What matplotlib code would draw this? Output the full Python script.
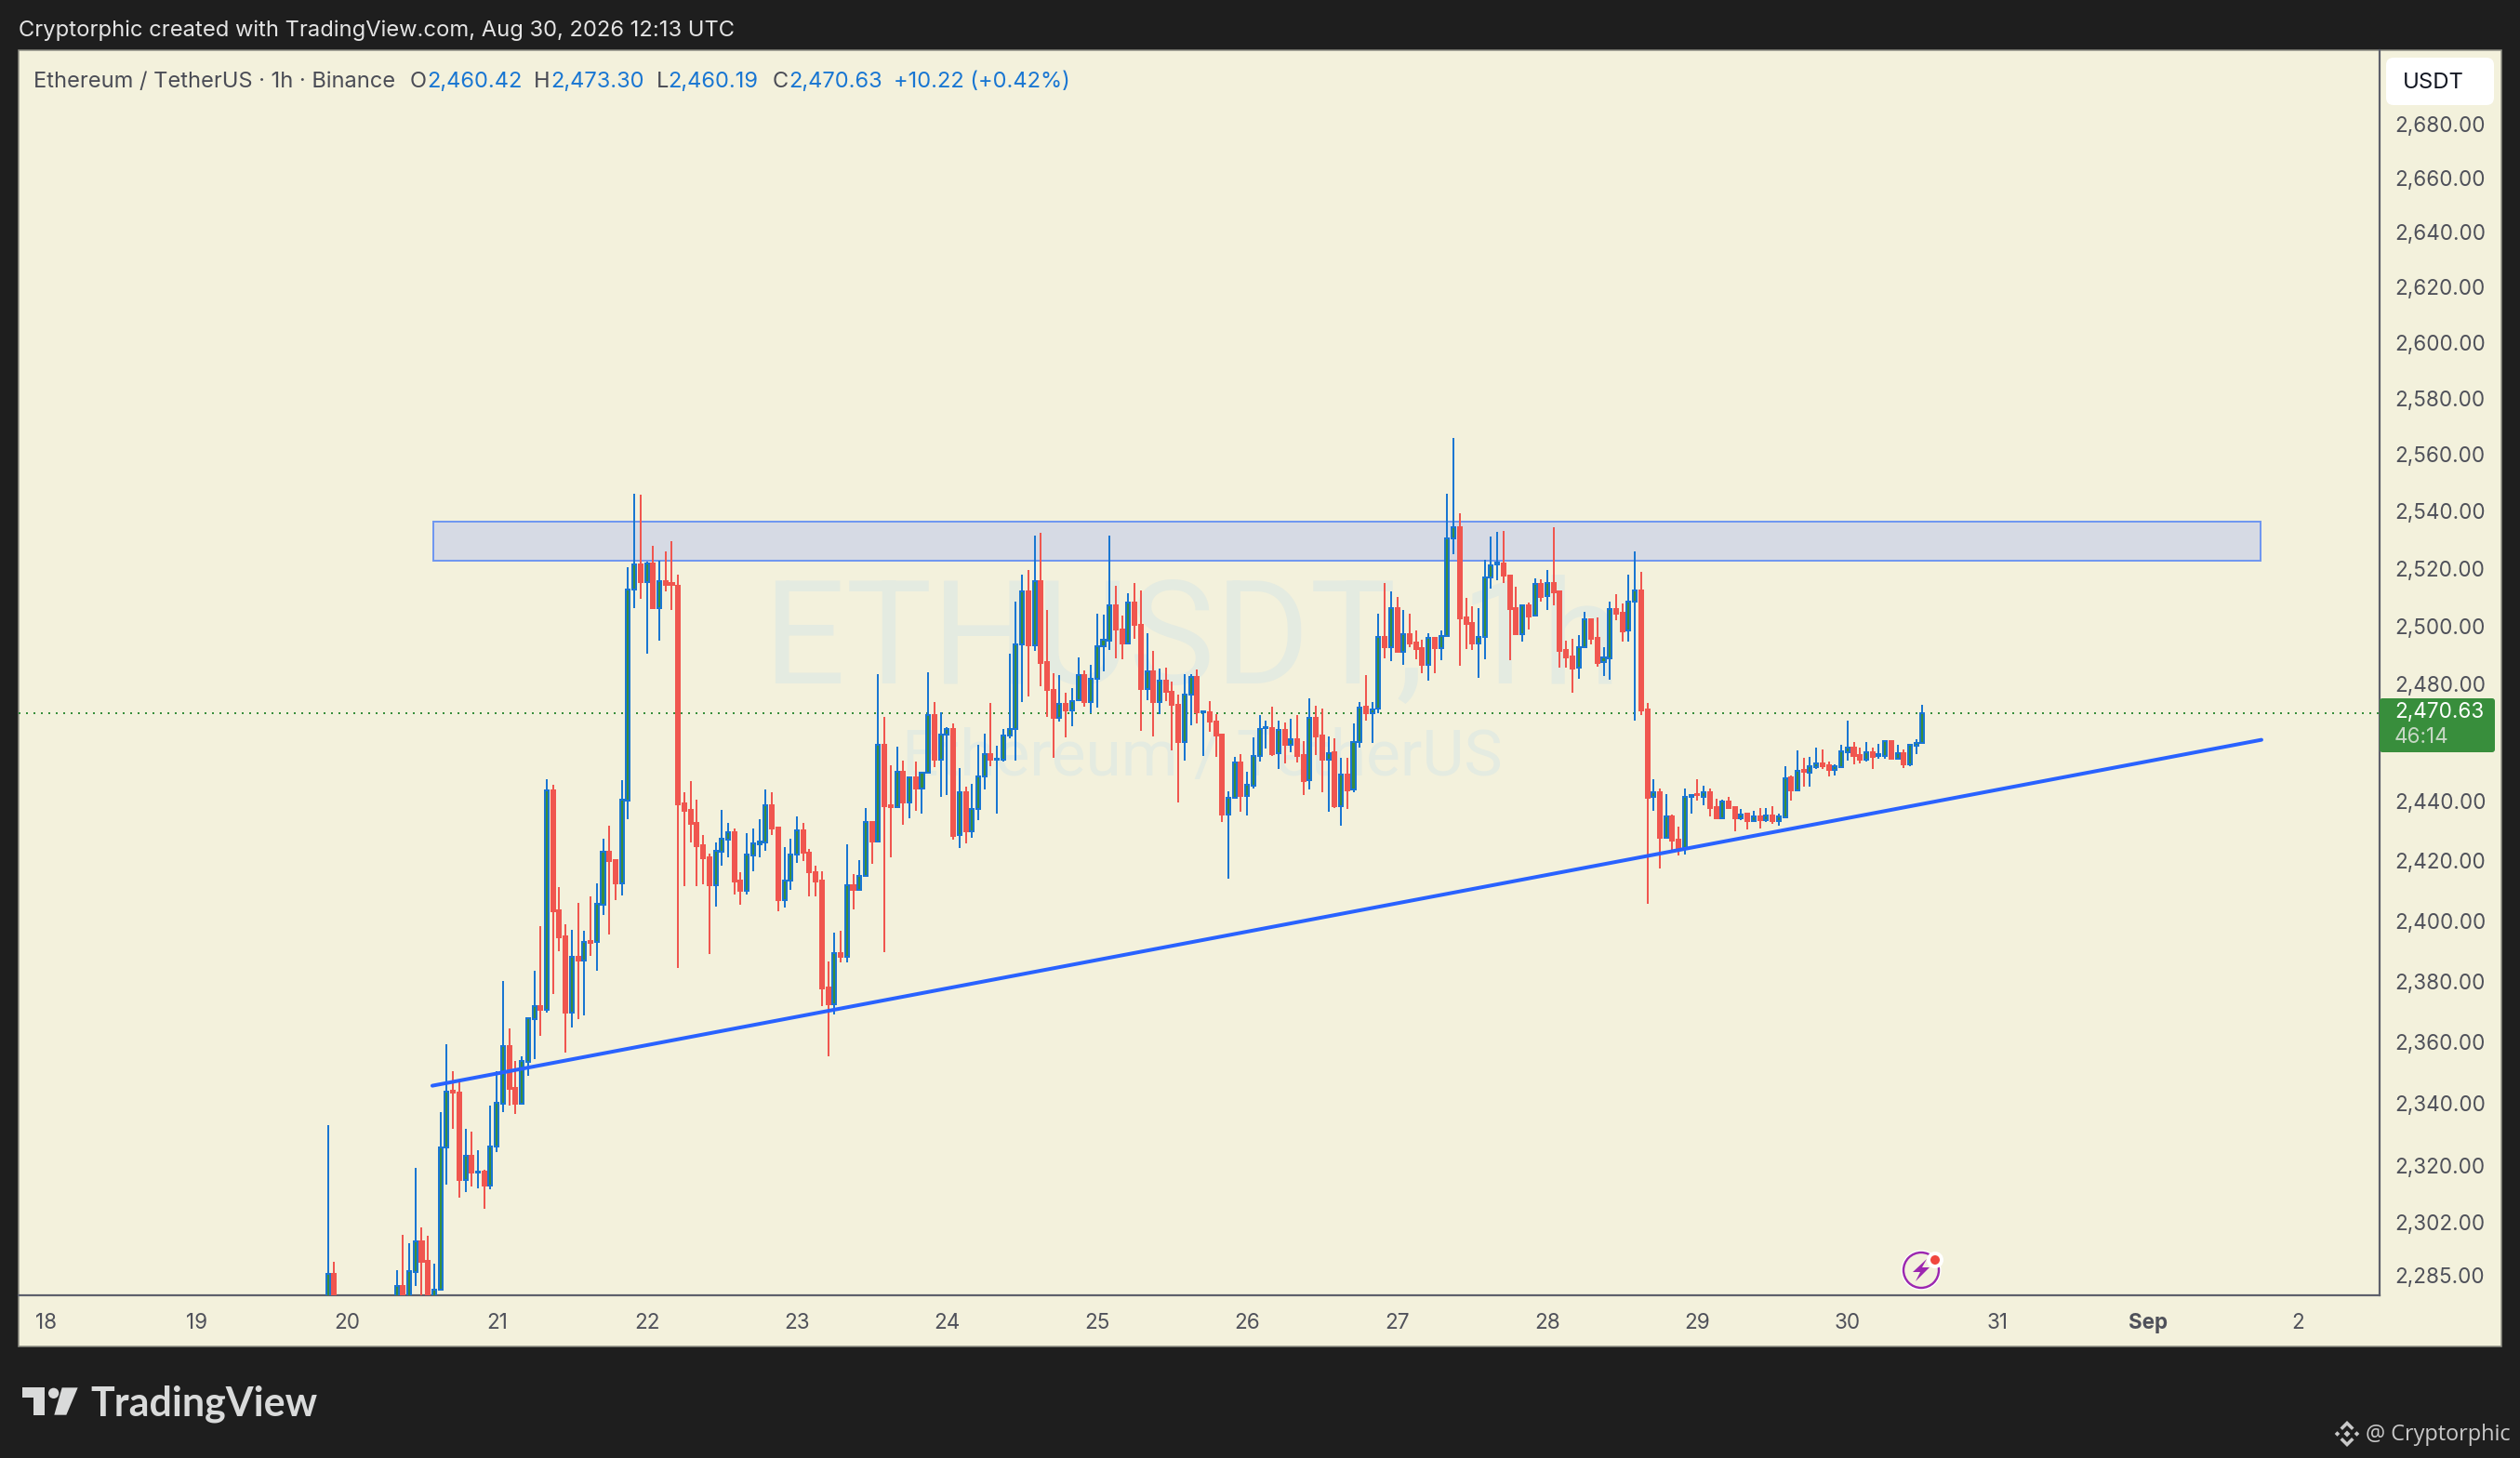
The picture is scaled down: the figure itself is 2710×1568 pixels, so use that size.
import matplotlib
matplotlib.use("Agg")
import matplotlib.pyplot as plt
from matplotlib.patches import Rectangle, FancyBboxPatch, Polygon, Circle
from matplotlib.transforms import ScaledTranslation
from matplotlib.ticker import NullLocator

# ---------- data ----------
hours_early = [45, 46]
hours_main = list(range(56, 301))  # hours since 18 Aug 00:00

opens = [2270.0, 2286.2,
 2276.0, 2282.3, 2274.0, 2286.7, 2296.5, 2290.3, 2272.0, 2281.1, 2326.5, 2344.9, 2344.3, 2316.1, 2323.8, 2318.5,
 2318.8, 2314.3, 2326.8, 2340.6, 2359.4, 2345.8, 2340.6, 2354.2, 2368.1, 2372.4, 2371.2, 2444.4, 2404.2, 2395.5,
 2370.3, 2388.8, 2387.5, 2394.0, 2393.7, 2405.8, 2423.7, 2420.9, 2413.1, 2441.0, 2513.3, 2522.0, 2515.9, 2522.4,
 2506.9, 2516.2, 2515.6, 2514.6, 2440.0, 2437.8, 2433.4, 2425.9, 2421.9, 2412.5, 2423.7, 2427.8, 2430.3, 2414.1,
 2410.7, 2422.5, 2426.2, 2426.8, 2439.4, 2431.9, 2407.6, 2414.1, 2422.8, 2430.9, 2423.4, 2416.9, 2414.1, 2378.6,
 2373.1, 2390.0, 2388.8, 2412.5, 2411.0, 2415.4, 2433.7, 2427.1, 2459.9, 2439.4, 2438.8, 2450.7, 2440.4, 2448.9,
 2445.1, 2450.4, 2470.0, 2454.8, 2463.4, 2465.3, 2429.3, 2443.8, 2430.6, 2438.2, 2449.2, 2456.7, 2454.8, 2454.8,
 2463.0, 2465.3, 2494.3, 2512.7, 2493.9, 2516.2, 2488.2, 2478.6, 2469.1, 2473.8, 2471.6, 2475.1, 2483.7, 2474.4,
 2482.5, 2493.6, 2495.6, 2507.8, 2499.4, 2494.6, 2508.8, 2501.0, 2478.9, 2485.0, 2474.4, 2481.8, 2477.9, 2473.5,
 2460.8, 2477.0, 2483.1, 2471.0, 2471.0, 2467.6, 2463.4, 2436.3, 2441.9, 2453.9, 2442.6, 2446.0, 2456.1, 2465.6,
 2465.6, 2457.1, 2465.0, 2459.9, 2461.8, 2456.4, 2447.9, 2469.0, 2463.0, 2454.8, 2457.4, 2439.1, 2449.8, 2444.7,
 2460.8, 2472.8, 2470.6, 2472.3, 2496.8, 2493.3, 2506.9, 2491.7, 2497.8, 2494.9, 2493.0, 2487.2, 2496.5, 2493.0,
 2497.2, 2531.2, 2535.0, 2503.6, 2501.7, 2494.6, 2496.8, 2517.5, 2522.0, 2522.4, 2518.2, 2506.9, 2497.8, 2507.8,
 2504.3, 2515.3, 2511.1, 2515.6, 2512.7, 2492.3, 2490.1, 2486.3, 2493.3, 2502.9, 2496.5, 2488.2, 2489.5, 2506.5,
 2505.2, 2499.1, 2509.1, 2513.0, 2471.9, 2442.2, 2443.8, 2428.4, 2435.6, 2427.8, 2424.7, 2442.2, 2443.2, 2442.2,
 2443.8, 2438.8, 2435.0, 2440.7, 2438.8, 2435.0, 2436.6, 2434.1, 2435.6, 2434.4, 2435.9, 2434.1, 2435.3, 2448.9,
 2444.4, 2451.4, 2450.4, 2452.3, 2453.6, 2452.9, 2451.4, 2452.3, 2457.4, 2458.9, 2456.4, 2454.8, 2457.4, 2456.1,
 2456.1, 2461.1, 2455.2, 2457.0, 2453.3, 2459.6, 2460.42]

highs = [2333.7, 2290.0,
 2287.3, 2298.5, 2295.9, 2320.0, 2300.9, 2298.2, 2289.4, 2337.9, 2360.0, 2351.2, 2348.2, 2332.5, 2331.6, 2325.6,
 2319.4, 2340.0, 2351.2, 2380.8, 2365.1, 2354.5, 2356.0, 2368.7, 2384.1, 2398.9, 2448.2, 2446.3, 2411.9, 2399.3,
 2397.7, 2406.4, 2397.4, 2408.6, 2413.1, 2428.1, 2432.5, 2420.9, 2447.9, 2521.1, 2546.9, 2546.5, 2523.0, 2528.5,
 2523.3, 2526.6, 2530.2, 2518.5, 2443.8, 2447.6, 2441.3, 2429.3, 2423.1, 2426.8, 2437.8, 2433.4, 2431.5, 2416.9,
 2430.0, 2431.5, 2434.7, 2444.7, 2443.8, 2432.2, 2425.3, 2428.1, 2435.6, 2433.4, 2424.7, 2419.1, 2417.2, 2387.2,
 2396.8, 2397.4, 2426.2, 2416.3, 2420.9, 2438.5, 2433.7, 2484.1, 2469.4, 2452.9, 2459.3, 2454.5, 2449.2, 2454.2,
 2450.7, 2484.7, 2474.4, 2470.9, 2465.9, 2467.2, 2452.0, 2445.6, 2446.6, 2459.9, 2463.7, 2474.1, 2459.6, 2465.3,
 2491.0, 2509.1, 2518.5, 2520.1, 2532.1, 2533.1, 2506.2, 2484.4, 2483.7, 2477.7, 2479.3, 2489.8, 2485.3, 2487.2,
 2504.9, 2504.6, 2532.1, 2514.6, 2504.3, 2512.0, 2515.6, 2513.0, 2498.1, 2492.0, 2486.0, 2486.3, 2481.5, 2477.0,
 2484.1, 2484.1, 2485.6, 2471.6, 2474.7, 2470.4, 2463.7, 2444.1, 2455.8, 2456.7, 2450.7, 2462.4, 2470.0, 2468.1,
 2472.8, 2468.1, 2467.5, 2468.7, 2470.0, 2461.1, 2475.7, 2473.2, 2472.2, 2462.7, 2462.1, 2455.5, 2455.5, 2467.2,
 2474.4, 2483.7, 2474.4, 2504.9, 2515.6, 2512.7, 2510.7, 2506.2, 2504.9, 2499.1, 2495.9, 2498.1, 2496.5, 2499.1,
 2546.9, 2566.6, 2539.9, 2510.4, 2507.5, 2506.9, 2523.7, 2531.8, 2533.5, 2533.8, 2518.2, 2514.3, 2508.1, 2508.8,
 2517.2, 2516.9, 2520.1, 2535.0, 2512.7, 2495.6, 2496.2, 2497.5, 2505.5, 2503.3, 2503.6, 2493.3, 2509.1, 2511.7,
 2508.4, 2518.5, 2526.6, 2519.5, 2474.1, 2448.2, 2445.0, 2443.2, 2436.3, 2432.2, 2445.0, 2442.9, 2448.2, 2446.0,
 2445.0, 2441.6, 2441.3, 2442.2, 2439.1, 2438.2, 2436.6, 2437.5, 2438.5, 2438.5, 2439.1, 2436.6, 2452.6, 2449.5,
 2458.0, 2455.5, 2455.8, 2458.9, 2458.3, 2454.2, 2453.3, 2459.9, 2468.1, 2460.8, 2458.9, 2460.8, 2458.9, 2460.2,
 2461.5, 2461.5, 2459.9, 2458.3, 2459.9, 2461.8, 2473.30]

lows = [2268.0, 2265.0,
 2272.0, 2270.0, 2270.0, 2282.3, 2272.0, 2268.0, 2270.0, 2281.1, 2314.6, 2332.5, 2310.4, 2312.2, 2314.0, 2313.4,
 2306.8, 2313.1, 2325.0, 2337.9, 2340.0, 2337.3, 2340.6, 2349.7, 2355.1, 2362.7, 2370.3, 2376.4, 2390.6, 2357.2,
 2365.4, 2368.1, 2369.3, 2389.1, 2384.1, 2402.4, 2395.9, 2407.6, 2408.9, 2434.7, 2506.9, 2510.1, 2491.0, 2506.9,
 2495.6, 2512.7, 2506.2, 2385.1, 2412.2, 2426.8, 2412.2, 2412.8, 2389.7, 2405.4, 2419.1, 2421.9, 2409.2, 2405.8,
 2409.2, 2417.2, 2421.9, 2424.0, 2429.3, 2403.9, 2404.9, 2411.0, 2420.0, 2420.6, 2408.6, 2408.6, 2372.4, 2356.0,
 2369.7, 2386.9, 2386.9, 2404.5, 2411.0, 2415.4, 2419.7, 2427.1, 2390.3, 2421.9, 2438.5, 2432.8, 2435.0, 2437.5,
 2436.6, 2450.4, 2452.3, 2442.2, 2442.9, 2427.8, 2425.0, 2426.5, 2428.4, 2434.4, 2444.7, 2452.6, 2436.6, 2454.2,
 2462.1, 2454.5, 2474.3, 2476.4, 2492.0, 2479.9, 2469.3, 2455.5, 2467.6, 2462.4, 2466.2, 2475.1, 2472.8, 2470.6,
 2472.6, 2485.0, 2492.3, 2489.5, 2489.1, 2494.3, 2496.2, 2464.6, 2475.1, 2462.7, 2470.4, 2474.7, 2458.0, 2440.4,
 2454.5, 2466.6, 2467.2, 2456.1, 2464.3, 2455.8, 2433.7, 2414.7, 2441.9, 2437.2, 2436.0, 2445.1, 2454.2, 2458.6,
 2456.1, 2451.7, 2453.6, 2457.4, 2453.9, 2442.9, 2444.7, 2456.4, 2443.8, 2437.2, 2438.5, 2432.5, 2438.2, 2443.8,
 2458.9, 2468.1, 2460.5, 2470.6, 2489.5, 2488.5, 2491.7, 2487.2, 2493.3, 2489.1, 2484.4, 2481.8, 2484.4, 2488.8,
 2497.2, 2525.6, 2486.9, 2492.6, 2492.3, 2482.8, 2489.1, 2513.6, 2516.6, 2515.6, 2488.8, 2497.5, 2495.2, 2499.4,
 2504.3, 2509.1, 2506.2, 2507.8, 2486.3, 2486.3, 2477.6, 2482.5, 2493.3, 2494.3, 2486.6, 2483.4, 2482.1, 2502.6,
 2495.2, 2495.2, 2468.1, 2470.0, 2406.1, 2437.5, 2418.1, 2428.4, 2424.0, 2422.5, 2422.8, 2436.6, 2441.0, 2439.4,
 2435.6, 2434.7, 2434.7, 2438.2, 2430.6, 2434.4, 2431.2, 2433.7, 2431.5, 2433.7, 2433.1, 2432.5, 2435.0, 2441.0,
 2444.4, 2445.7, 2445.7, 2451.7, 2451.7, 2449.2, 2449.5, 2452.3, 2454.5, 2453.3, 2453.6, 2454.2, 2451.7, 2455.2,
 2455.2, 2455.2, 2454.8, 2452.0, 2452.6, 2456.7, 2460.19]

closes = [2286.2, 2272.0,
 2282.3, 2274.0, 2287.0, 2296.5, 2290.0, 2272.0, 2281.1, 2326.5, 2344.6, 2344.3, 2316.1, 2323.8, 2318.5, 2318.8,
 2314.3, 2326.8, 2340.9, 2359.4, 2345.5, 2340.6, 2354.5, 2368.4, 2372.4, 2371.2, 2444.4, 2403.9, 2395.2, 2370.3,
 2388.8, 2387.5, 2393.7, 2393.4, 2406.1, 2423.7, 2420.6, 2413.1, 2441.3, 2513.3, 2522.0, 2515.9, 2522.4, 2506.9,
 2516.2, 2514.9, 2514.9, 2439.7, 2437.5, 2433.1, 2425.6, 2421.6, 2412.5, 2424.0, 2428.1, 2430.3, 2413.8, 2410.7,
 2422.8, 2426.5, 2427.1, 2439.4, 2431.5, 2407.6, 2414.1, 2422.8, 2430.9, 2423.4, 2416.9, 2413.8, 2378.3, 2373.1,
 2390.0, 2388.8, 2412.5, 2411.0, 2415.4, 2433.7, 2427.1, 2459.9, 2439.1, 2438.8, 2450.7, 2440.4, 2448.9, 2445.1,
 2450.4, 2470.0, 2454.8, 2463.4, 2465.3, 2429.0, 2443.8, 2430.6, 2438.2, 2449.2, 2456.7, 2454.8, 2455.2, 2463.0,
 2465.3, 2494.3, 2512.7, 2493.9, 2516.2, 2487.9, 2478.6, 2469.1, 2473.8, 2471.6, 2474.7, 2483.7, 2474.4, 2482.5,
 2493.6, 2495.9, 2507.8, 2499.4, 2494.6, 2508.8, 2501.0, 2478.9, 2485.0, 2474.4, 2481.8, 2477.9, 2473.5, 2460.8,
 2477.0, 2483.1, 2471.0, 2471.3, 2467.6, 2463.0, 2436.3, 2441.9, 2453.9, 2442.6, 2446.3, 2456.1, 2465.3, 2465.9,
 2456.7, 2465.0, 2459.9, 2461.8, 2456.1, 2447.6, 2469.0, 2462.7, 2454.8, 2457.0, 2439.1, 2449.8, 2444.4, 2460.8,
 2472.5, 2470.6, 2471.9, 2496.8, 2493.3, 2506.9, 2491.7, 2497.8, 2494.6, 2492.6, 2487.2, 2496.5, 2493.0, 2497.2,
 2531.2, 2535.0, 2503.3, 2501.4, 2494.6, 2496.8, 2517.5, 2521.7, 2522.7, 2518.2, 2506.5, 2497.8, 2507.8, 2504.0,
 2515.3, 2510.7, 2515.6, 2512.4, 2492.0, 2489.8, 2486.0, 2493.3, 2502.9, 2496.2, 2487.9, 2489.8, 2506.5, 2504.9,
 2498.8, 2509.1, 2513.0, 2471.6, 2441.9, 2443.8, 2428.4, 2435.6, 2427.5, 2424.7, 2442.2, 2442.9, 2442.9, 2443.8,
 2438.5, 2435.0, 2440.7, 2438.5, 2435.0, 2436.3, 2434.1, 2435.6, 2434.4, 2435.9, 2434.1, 2435.6, 2448.5, 2444.4,
 2451.1, 2450.7, 2452.6, 2453.6, 2452.6, 2451.4, 2452.6, 2457.7, 2458.9, 2456.1, 2454.8, 2457.4, 2455.8, 2456.7,
 2461.1, 2455.2, 2457.0, 2453.3, 2459.9, 2460.5, 2470.63]

day_ticks = [0, 24, 48, 72, 96, 120, 144, 168, 192, 216, 240, 264, 288, 312, 336, 360]
day_labels = ["18", "19", "20", "21", "22", "23", "24", "25", "26", "27", "28", "29", "30", "31", "Sep", "2"]
price_ticks = [2680, 2660, 2640, 2620, 2600, 2580, 2560, 2540, 2520, 2500, 2480,
               2440, 2420, 2400, 2380, 2360, 2340, 2320, 2302, 2285]
last_price = 2470.63
zone_hours = [61.9, 354.0]
zone_prices = [2523.3, 2537.1]
trend_hours = [61.7, 354.2]
trend_prices = [2346.4, 2461.5]
y_limits = [2279.3, 2708.1]
x_limits = [-4.46, 373.09]

# ---------- colours ----------
BG = "#1e1e1e"
PANEL = "#f3f1dc"
AX = "#5d606b"
TXT = "#4f515a"
UP_EDGE = "#1976d2"
UP_FILL = "#388e3c"
DOWN = "#f0564f"
BLUE = "#2962ff"

W, H = 2710, 1568
px = 0.72  # one pixel in points at dpi 100
FONT = ["Inter", "DejaVu Sans"]
plt.rcParams["font.family"] = FONT

fig = plt.figure(figsize=(W / 100, H / 100), dpi=100, facecolor=BG)

# overlay in pixel coordinates for the chrome
bg = fig.add_axes([0, 0, 1, 1], zorder=0)
bg.set_xlim(0, W)
bg.set_ylim(H, 0)
bg.axis("off")
bg.add_patch(Rectangle((20, 54), 2670, 1394, fc=PANEL, ec="#8f8f85", lw=1.5 * px))

# main chart
L, R, T, B = 20, 2559, 54, 1393
ax = fig.add_axes([L / W, 1 - B / H, (R - L) / W, (B - T) / H], zorder=1)
ax.patch.set_alpha(0)
ax.set_yscale("log")
ax.set_xlim(*x_limits)
ax.set_ylim(*y_limits)
for s in ax.spines.values():
    s.set_visible(False)
ax.spines["bottom"].set_visible(True)
ax.spines["right"].set_visible(True)
ax.spines["bottom"].set_color(AX)
ax.spines["right"].set_color(AX)
ax.spines["bottom"].set_linewidth(2.2 * px)
ax.spines["right"].set_linewidth(2.2 * px)

# watermark
bg.text(821, 734, "ETHUSDT, 1h", color="#e4ebe1", fontsize=112, family="Roboto",
        va="baseline", ha="left", zorder=1)
bg.text(970, 834, "Ethereum / TetherUS", color="#e4ebe1", fontsize=50, family="Roboto",
        va="baseline", ha="left", zorder=1)

# zone, candles, lines
ax.add_patch(Rectangle((zone_hours[0], zone_prices[0]), zone_hours[1] - zone_hours[0],
                       zone_prices[1] - zone_prices[0], fc="#d6dae4", ec="#7097f0",
                       lw=2 * px, zorder=2))
ax.axhline(last_price, color=UP_FILL, lw=2 * px, ls=(0, (1, 3)), zorder=2)

hours = hours_early + hours_main
up = [c >= o for o, c in zip(opens, closes)]
for hr, o, hi, lo, c, u in zip(hours, opens, highs, lows, closes, up):
    col = UP_EDGE if u else DOWN
    ax.vlines(hr, lo, hi, color=col, lw=2 * px, zorder=3, capstyle="butt")
    ax.bar(hr, abs(c - o), bottom=min(o, c), width=0.6,
           fc=UP_FILL if u else DOWN, ec=col, lw=2 * px, zorder=4, joinstyle="miter")

ax.plot(trend_hours, trend_prices, color=BLUE, lw=4 * px, zorder=5, solid_capstyle="round")

# axis ticks as real ticks
ax.yaxis.tick_right()
ax.yaxis.set_minor_locator(NullLocator())
ax.set_yticks(price_ticks, labels=[f"{p:,.2f}" for p in price_ticks])
ax.tick_params(axis="y", length=0, pad=16 * px, labelsize=16.2, labelcolor=TXT)
ax.set_xticks(day_ticks, labels=day_labels)
ax.tick_params(axis="x", length=0, pad=19 * px, labelsize=16.2, labelcolor=TXT)
for t in ax.get_xticklabels():
    if t.get_text() == "Sep":
        t.set_fontweight("bold")
for t in ax.get_yticklabels():
    t.set_transform(t.get_transform() + ScaledTranslation(0, 2 / 100, fig.dpi_scale_trans))

# front overlay
fg = fig.add_axes([0, 0, 1, 1], zorder=3)
fg.set_xlim(0, W)
fg.set_ylim(H, 0)
fg.axis("off")

fg.text(20, 33, "Cryptorphic created with TradingView.com, Aug 30, 2026 12:13 UTC",
        color="#e4e4e4", fontsize=17.1, va="center", ha="left")

row_y = 88
GREY_T = "#4a4c55"
BLUE_T = "#1976d2"
row = [(36, "Ethereum / TetherUS · 1h · Binance", GREY_T), (441, "O", GREY_T), (459, "2,460.42", BLUE_T),
       (574, "H", GREY_T), (592, "2,473.30", BLUE_T), (706, "L", GREY_T), (718, "2,460.19", BLUE_T),
       (831, "C", GREY_T), (848, "2,470.63", BLUE_T), (961, "+10.22 (+0.42%)", BLUE_T)]
for x, s, c in row:
    fg.text(x, row_y, s, color=c, fontsize=17, va="center", ha="left")

fg.add_patch(FancyBboxPatch((2574, 70), 100, 35, boxstyle="round,pad=8,rounding_size=8",
                            fc="white", ec="none"))
fg.text(2584, 89, "USDT", color="#131722", fontsize=17.2, va="center", ha="left")

fg.add_patch(FancyBboxPatch((2559, 751), 124, 58, boxstyle="round,pad=0,rounding_size=3",
                            fc=UP_FILL, ec="none"))
fg.text(2575, 766, f"{last_price:,.2f}", color="white", fontsize=16.2, va="center", ha="left")
fg.text(2575, 793, "46:14", color="#c6d8c4", fontsize=16.2, va="center", ha="left")

# TradingView logo
LOGO = "#d9dada"
def zpt(x, y):
    return (x / 3, 1340 + y / 3)
fg.add_patch(Polygon([zpt(72, 457), zpt(145, 457), zpt(145, 545), zpt(108, 545), zpt(108, 490), zpt(72, 490)],
                     fc=LOGO, ec="none"))
fg.add_patch(Circle(zpt(173, 475), 17 / 3, fc=LOGO, ec="none"))
fg.add_patch(Polygon([zpt(200, 457), zpt(251, 457), zpt(214, 545), zpt(175, 545)], fc=LOGO, ec="none"))
fg.text(97, 1522, "TradingView", color=LOGO, fontsize=31, family="Lato", weight="bold",
        va="baseline", ha="left")

# credit and Binance mark
CRED = "#c9c9c9"
cx, cy = 2524, 1542
def diamond(x, y, r):
    return [(x, y - r), (x + r, y), (x, y + r), (x - r, y)]
fg.add_patch(Polygon(diamond(cx, cy, 3.5), fc=CRED, ec="none"))
fg.add_patch(Polygon(diamond(cx - 10.5, cy, 2.8), fc=CRED, ec="none"))
fg.add_patch(Polygon(diamond(cx + 10.5, cy, 2.8), fc=CRED, ec="none"))
fg.add_patch(Polygon([(cx, cy - 14), (cx + 7.5, cy - 6.5), (cx + 5, cy - 4), (cx, cy - 9), (cx - 5, cy - 4),
                      (cx - 7.5, cy - 6.5)], fc=CRED, ec="none"))
fg.add_patch(Polygon([(cx, cy + 14), (cx + 7.5, cy + 6.5), (cx + 5, cy + 4), (cx, cy + 9), (cx - 5, cy + 4),
                      (cx - 7.5, cy + 6.5)], fc=CRED, ec="none"))
fg.text(2544, 1543, "@ Cryptorphic", color=CRED, fontsize=16.9, family="Open Sans", va="center", ha="left")

# lightning badge
ic, jc = 2066, 1366
fg.add_patch(Circle((ic, jc), 21.5, fc="white", ec="none"))
fg.add_patch(Circle((ic, jc), 19, fc=PANEL, ec="#9c27b0", lw=2.4 * px))
fg.add_patch(Polygon([(ic + 6, jc - 12), (ic - 9, jc + 2), (ic - 1, jc + 2), (ic - 6, jc + 12),
                      (ic + 9, jc - 3), (ic + 1, jc - 3)], fc="#9c27b0", ec="none"))
fg.add_patch(Circle((2081, 1355), 9, fc="white", ec="none"))
fg.add_patch(Circle((2081, 1355), 5, fc="#f0473f", ec="none"))

fig.savefig("out.png", dpi=100, facecolor=BG)
